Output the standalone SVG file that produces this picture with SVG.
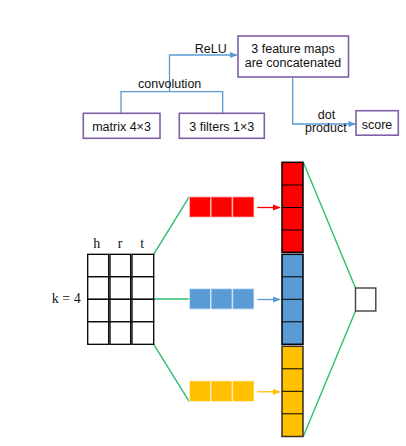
<svg xmlns="http://www.w3.org/2000/svg" width="406" height="446" viewBox="0 0 406 446">
<defs>
<style>
.box{fill:#fff;stroke:#7F5FA8;stroke-width:1.6}
.lbl{font-family:"Liberation Sans",Arial,sans-serif;font-size:12.5px;fill:#111;text-anchor:middle}
.ser{font-family:"Liberation Serif","Times New Roman",serif;font-size:14px;fill:#111;text-anchor:middle}
.conn{fill:none;stroke:#5B9BD5;stroke-width:1.3}
.grn{fill:none;stroke:#2EBD6B;stroke-width:1.4}
.cell{fill:#fff;stroke:#000;stroke-width:1.3}
.fc{stroke:#fff;stroke-opacity:0.55;stroke-width:1.5}
.col{stroke:#000;stroke-width:1}
</style>
<marker id="ab" viewBox="0 0 10 10" refX="9" refY="5" markerWidth="6" markerHeight="6" orient="auto"><path d="M0,1 L10,5 L0,9 z" fill="#5B9BD5"/></marker>
<marker id="ar" viewBox="0 0 10 10" refX="9" refY="5" markerWidth="6" markerHeight="6" orient="auto"><path d="M0,1 L10,5 L0,9 z" fill="#FF0000"/></marker>
<marker id="ay" viewBox="0 0 10 10" refX="9" refY="5" markerWidth="6" markerHeight="6" orient="auto"><path d="M0,1 L10,5 L0,9 z" fill="#FFC000"/></marker>
</defs>
<rect width="406" height="446" fill="#fff"/>

<g id="connectors">
<path class="conn" d="M121,113 V91.7 H222.7 V113"/>
<path class="conn" d="M169.5,91.7 V55 H237" marker-end="url(#ab)"/>
<path class="conn" d="M292.7,77 V124 H355.5" marker-end="url(#ab)"/>
<text class="lbl" x="169.7" y="88.3">convolution</text>
<text class="lbl" x="210.8" y="52.5">ReLU</text>
<text class="lbl" x="326.5" y="119">dot</text>
<text class="lbl" x="325.8" y="131.5">product</text>
<line class="grn" x1="153.7" y1="254.3" x2="189.3" y2="196.7"/>
<line class="grn" x1="153.7" y1="299" x2="189.3" y2="299"/>
<line class="grn" x1="153.7" y1="344.3" x2="189.3" y2="401.7"/>
<line x1="257.3" y1="207.5" x2="280" y2="207.5" stroke="#FF0000" stroke-width="1.3" marker-end="url(#ar)"/>
<line x1="257.3" y1="299.5" x2="280" y2="299.5" stroke="#5B9BD5" stroke-width="1.3" marker-end="url(#ab)"/>
<line x1="257.3" y1="391.8" x2="280" y2="391.8" stroke="#FFC000" stroke-width="1.3" marker-end="url(#ay)"/>
<line class="grn" x1="303.3" y1="162.3" x2="355.5" y2="288"/>
<line class="grn" x1="303.3" y1="436.5" x2="355.5" y2="311"/>
</g>

<g id="concat">
<rect class="box" x="238" y="36" width="110.5" height="41"/>
<text class="lbl" x="293" y="52.7">3 feature maps</text>
<text class="lbl" x="293" y="66.7">are concatenated</text>
</g>
<g id="matrix">
<rect class="box" x="83.3" y="113.3" width="76.7" height="25"/>
<text class="lbl" x="121.5" y="130.7">matrix 4×3</text>
</g>
<g id="filters">
<rect class="box" x="179.3" y="113.3" width="85" height="25"/>
<text class="lbl" x="221.8" y="130.7">3 filters 1×3</text>
</g>
<g id="score">
<rect class="box" x="356" y="110.7" width="42.3" height="24.5"/>
<text class="lbl" x="377" y="128.5">score</text>
</g>

<g id="input-matrix">
<text class="ser" x="96.7" y="247.7">h</text>
<text class="ser" x="120" y="247.7">r</text>
<text class="ser" x="142.3" y="247.7">t</text>
<text class="ser" x="66.2" y="303">k = 4</text>
<g>
<rect class="cell" x="87.7" y="254.3" width="21" height="22.5"/>
<rect class="cell" x="87.7" y="276.8" width="21" height="22.5"/>
<rect class="cell" x="87.7" y="299.3" width="21" height="22.5"/>
<rect class="cell" x="87.7" y="321.8" width="21" height="22.5"/>
<rect class="cell" x="110" y="254.3" width="20.7" height="22.5"/>
<rect class="cell" x="110" y="276.8" width="20.7" height="22.5"/>
<rect class="cell" x="110" y="299.3" width="20.7" height="22.5"/>
<rect class="cell" x="110" y="321.8" width="20.7" height="22.5"/>
<rect class="cell" x="132" y="254.3" width="21.7" height="22.5"/>
<rect class="cell" x="132" y="276.8" width="21.7" height="22.5"/>
<rect class="cell" x="132" y="299.3" width="21.7" height="22.5"/>
<rect class="cell" x="132" y="321.8" width="21.7" height="22.5"/>
</g>
</g>

<g id="filter-red">
<rect class="fc" x="189.3" y="196.7" width="21.6" height="20.6" fill="#FF0000"/>
<rect class="fc" x="210.9" y="196.7" width="21.6" height="20.6" fill="#FF0000"/>
<rect class="fc" x="232.5" y="196.7" width="21.6" height="20.6" fill="#FF0000"/>
</g>
<g id="filter-blue">
<rect class="fc" x="189.3" y="288.5" width="21.6" height="20.8" fill="#5B9BD5"/>
<rect class="fc" x="210.9" y="288.5" width="21.6" height="20.8" fill="#5B9BD5"/>
<rect class="fc" x="232.5" y="288.5" width="21.6" height="20.8" fill="#5B9BD5"/>
</g>
<g id="filter-yellow">
<rect class="fc" x="189.3" y="380.7" width="21.6" height="21" fill="#FFC000"/>
<rect class="fc" x="210.9" y="380.7" width="21.6" height="21" fill="#FFC000"/>
<rect class="fc" x="232.5" y="380.7" width="21.6" height="21" fill="#FFC000"/>
</g>

<g id="concat-column">
<rect x="282" y="162.3" width="21" height="90" fill="#FF0000" stroke="#000" stroke-width="1.5"/>
<line class="col" x1="282" y1="185" x2="303" y2="185" stroke="#7a0000" stroke-width="1.5"/>
<line class="col" x1="282" y1="207.5" x2="303" y2="207.5"/>
<line class="col" x1="282" y1="230" x2="303" y2="230" stroke="#7a0000" stroke-width="1.5"/>
<rect x="282" y="254.3" width="21" height="90" fill="#5B9BD5" stroke="#000" stroke-width="1.5"/>
<line class="col" x1="282" y1="276.8" x2="303" y2="276.8" stroke="#2b4a66" stroke-width="1.5"/>
<line class="col" x1="282" y1="299.3" x2="303" y2="299.3"/>
<line class="col" x1="282" y1="321.8" x2="303" y2="321.8" stroke="#2b4a66" stroke-width="1.5"/>
<rect x="282" y="346.3" width="21" height="90.2" fill="#FFC000" stroke="#3a3020" stroke-width="1.5"/>
<line class="col" x1="282" y1="368.8" x2="303" y2="368.8" stroke="#6b5200" stroke-width="1.5"/>
<line class="col" x1="282" y1="391.3" x2="303" y2="391.3"/>
<line class="col" x1="282" y1="413.8" x2="303" y2="413.8"/>
</g>

<g id="score-cell">
<rect x="355.5" y="288" width="20.3" height="23" fill="#fff" stroke="#404040" stroke-width="1.4"/>
</g>
</svg>
